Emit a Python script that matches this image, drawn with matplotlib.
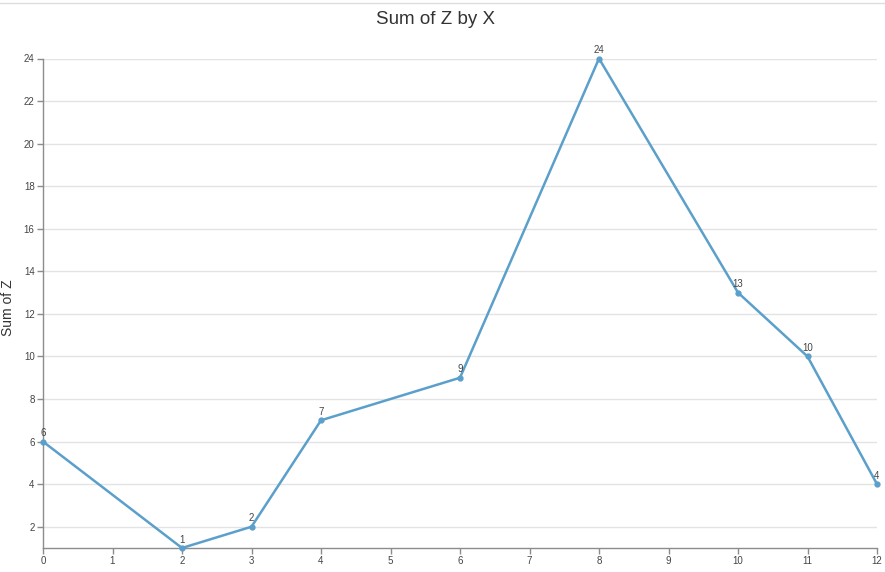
import matplotlib
matplotlib.use("Agg")
import matplotlib.pyplot as plt
from matplotlib.lines import Line2D

plt.rcParams['font.family'] = ['Liberation Sans', 'DejaVu Sans']

# data
x_vals = [0, 2, 3, 4, 6, 8, 10, 11, 12]
z_sums = [6, 1, 2, 7, 9, 24, 13, 10, 4]
x_ticks = list(range(0, 13))
y_ticks = list(range(2, 25, 2))

line_color = '#5b9fcb'
text_color = '#444444'
axis_color = '#8c8c8c'
grid_color = '#e3e3e3'

fig = plt.figure(figsize=(8.85, 5.72), dpi=100)
ax = fig.add_axes([43 / 885, 24 / 572, 834 / 885, 489.5 / 572])

ax.plot(x_vals, z_sums, color=line_color, linewidth=1.8, marker='o',
        markersize=3.5, zorder=3, clip_on=False)

for xv, zv in zip(x_vals, z_sums):
    ax.annotate(str(zv), (xv, zv), xytext=(0, 2.5), textcoords='offset points',
                ha='center', va='bottom', fontsize=7, color=text_color)

ax.set_xlim(0, 12)
ax.set_ylim(1, 24)
ax.set_xticks(x_ticks)
ax.set_yticks(y_ticks)
ax.tick_params(axis='both', labelsize=7, colors=text_color, length=4,
               width=1, pad=2)
ax.tick_params(axis='both', color=axis_color)

ax.grid(axis='y', color=grid_color, linewidth=1)
ax.set_axisbelow(True)
for side in ['top', 'right']:
    ax.spines[side].set_visible(False)
for side in ['left', 'bottom']:
    ax.spines[side].set_color(axis_color)
    ax.spines[side].set_linewidth(1)

ax.set_ylabel('Sum of Z', fontsize=10, color='#333333')
ax.yaxis.set_label_coords(-0.034, 0.49)
fig.text(436 / 885, 1 - 20 / 572, 'Sum of Z by X', ha='center', va='center',
         fontsize=13.5, color='#333333')

# thin page border on top
fig.add_artist(Line2D([0, 1], [1 - 3 / 572, 1 - 3 / 572], color='#dddddd',
                      linewidth=1, transform=fig.transFigure))

fig.savefig('out.png', dpi=100)
